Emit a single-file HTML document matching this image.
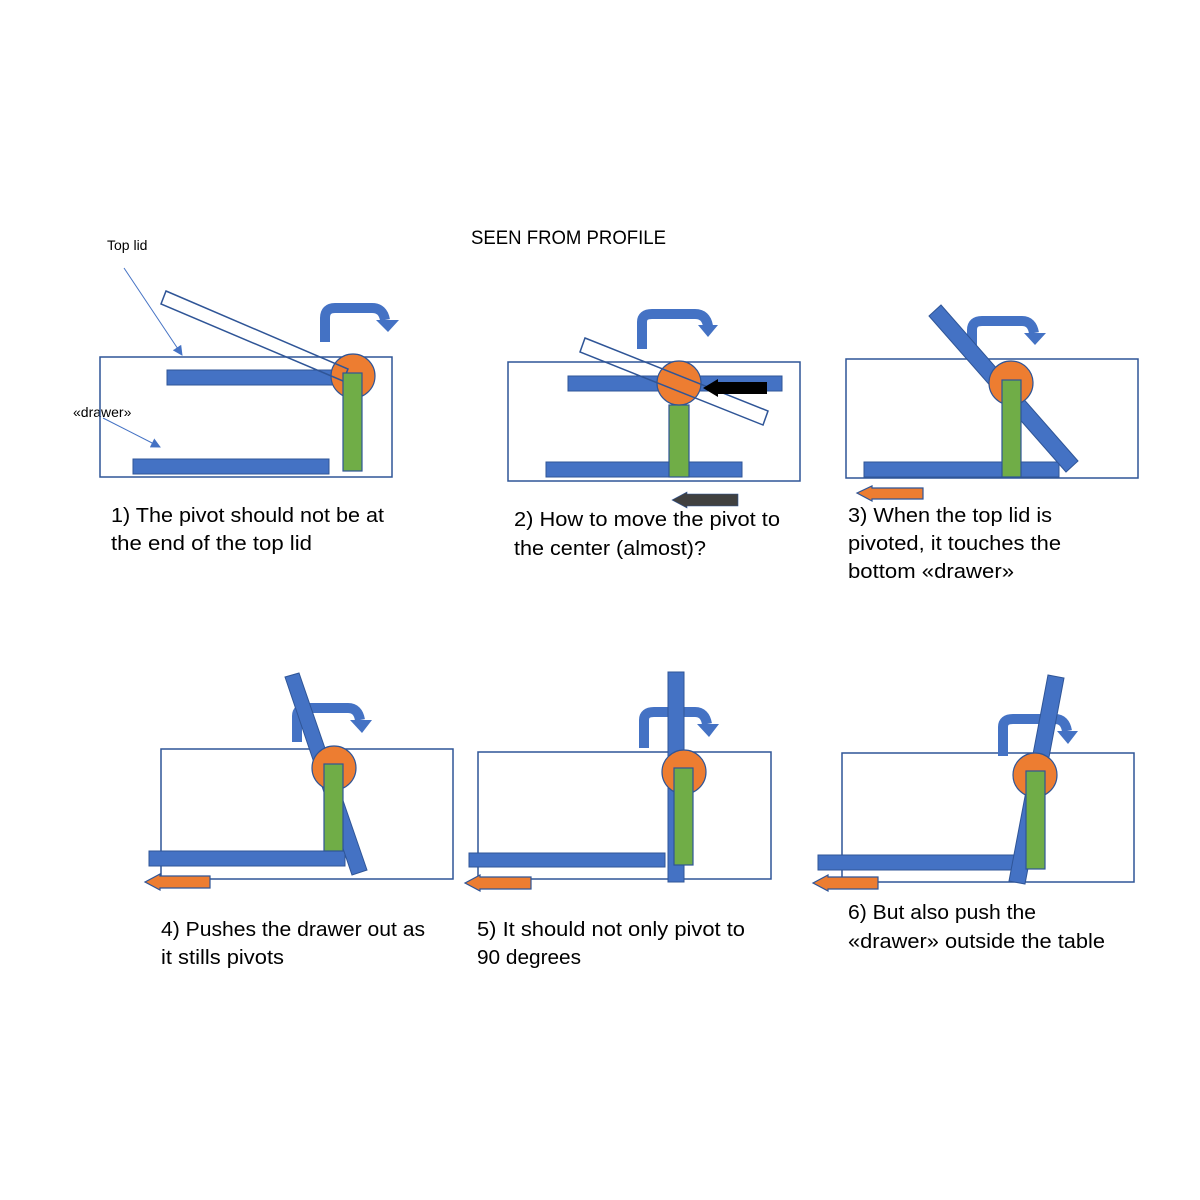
<!DOCTYPE html>
<html><head><style>
html,body{margin:0;padding:0;background:#fff;}
svg{display:block;}
text{font-family:"Liberation Sans",sans-serif;fill:#000;}
.box{fill:none;stroke:#2F5597;stroke-width:1.5;}
.bar{fill:#4472C4;stroke:#2F5597;stroke-width:1;}
.grn{fill:#70AD47;stroke:#2F5597;stroke-width:1.2;}
.org{fill:#ED7D31;stroke:#2F5597;stroke-width:1.2;}
.ca{fill:none;stroke:#4472C4;stroke-width:10;}
.cap{font-size:20px;}
</style></head><body>
<svg width="1200" height="1200" viewBox="0 0 1200 1200">
<defs>
<marker id="thin" markerWidth="10" markerHeight="10" refX="9" refY="5" orient="auto" markerUnits="userSpaceOnUse"><path d="M0,0 L10,5 L0,10z" fill="#4472C4"/></marker>
</defs>
<text x="471" y="244" font-size="19" textLength="195" lengthAdjust="spacingAndGlyphs">SEEN FROM PROFILE</text>

<!-- Panel 1 -->
<text x="107" y="250" font-size="14">Top lid</text>
<line x1="124" y1="268" x2="182" y2="355" stroke="#4472C4" stroke-width="1" marker-end="url(#thin)"/>
<text x="73" y="417" font-size="14">«drawer»</text>
<line x1="103" y1="418" x2="160" y2="447" stroke="#4472C4" stroke-width="1" marker-end="url(#thin)"/>
<rect class="box" x="100" y="357" width="292" height="120"/>
<rect class="bar" x="167" y="370" width="178" height="15"/>
<rect class="bar" x="133" y="459" width="196" height="15"/>
<circle class="org" cx="353" cy="376" r="22"/>
<polygon points="166,291 348,369 343,381 161,304" fill="none" stroke="#2F5597" stroke-width="1.5"/>
<rect class="grn" x="343" y="373" width="19" height="98"/>
<path class="ca" d="M325,342 V318 Q325,308 335,308 H372 Q383,308 385,320"/>
<polygon points="376,320 399,320 388,332" fill="#4472C4"/>
<text class="cap" x="111" y="522" textLength="273" lengthAdjust="spacingAndGlyphs">1) The pivot should not be at</text>
<text class="cap" x="111" y="550" textLength="201" lengthAdjust="spacingAndGlyphs">the end of the top lid</text>

<!-- Panel 2 -->
<rect class="box" x="508" y="362" width="292" height="119"/>
<rect class="bar" x="568" y="376" width="214" height="15"/>
<rect class="bar" x="546" y="462" width="196" height="15"/>
<rect class="grn" x="669" y="405" width="20" height="72"/>
<circle class="org" cx="679" cy="383" r="22"/>
<polygon points="585,338 768,411 763,425 580,352" fill="none" stroke="#2F5597" stroke-width="1.5"/>
<polygon points="703,388 718,379 718,382 767,382 767,394 718,394 718,397" fill="#000"/>
<polygon points="672,500 687,492 687,494 738,494 738,506 687,506 687,508" fill="#404040" stroke="#2F5597" stroke-width="0.6"/>
<path class="ca" d="M642,349 V322 Q642,314 652,314 H695 Q706,314 708,326"/>
<polygon points="698,325 718,325 708,337" fill="#4472C4"/>
<text class="cap" x="514" y="526" textLength="266" lengthAdjust="spacingAndGlyphs">2) How to move the pivot to</text>
<text class="cap" x="514" y="555" textLength="192" lengthAdjust="spacingAndGlyphs">the center (almost)?</text>

<!-- Panel 3 -->
<rect class="box" x="846" y="359" width="292" height="119"/>
<rect class="bar" x="864" y="462" width="195" height="15"/>
<path class="ca" d="M972,356 V330 Q972,321 982,321 H1022 Q1032,321 1034,333"/>
<polygon points="1024,333 1046,333 1035,345" fill="#4472C4"/>
<polygon points="929,316 941,305 1078,461 1066,472" class="bar"/>
<circle class="org" cx="1011" cy="383" r="22"/>
<rect class="grn" x="1002" y="380" width="19" height="97"/>
<polygon points="857,493 872,486 872,488 923,488 923,499 872,499 872,501" class="org"/>
<text class="cap" x="848" y="522" textLength="204" lengthAdjust="spacingAndGlyphs">3) When the top lid is</text>
<text class="cap" x="848" y="550" textLength="213" lengthAdjust="spacingAndGlyphs">pivoted, it touches the</text>
<text class="cap" x="848" y="578" textLength="166" lengthAdjust="spacingAndGlyphs">bottom «drawer»</text>

<!-- Panel 4 -->
<rect class="box" x="161" y="749" width="292" height="130"/>
<rect class="bar" x="149" y="851" width="196" height="15"/>
<path class="ca" d="M297,742 V716 Q297,708 307,708 H348 Q358,708 360,720"/>
<polygon points="350,720 372,720 362,733" fill="#4472C4"/>
<polygon points="285,677 299,673 367,870 352,875" class="bar"/>
<circle class="org" cx="334" cy="768" r="22"/>
<rect class="grn" x="324" y="764" width="19" height="87"/>
<polygon points="145,882 160,874 160,876 210,876 210,888 160,888 160,890" class="org"/>
<text class="cap" x="161" y="936" textLength="264" lengthAdjust="spacingAndGlyphs">4) Pushes the drawer out as</text>
<text class="cap" x="161" y="964" textLength="123" lengthAdjust="spacingAndGlyphs">it stills pivots</text>

<!-- Panel 5 -->
<rect class="box" x="478" y="752" width="293" height="127"/>
<rect class="bar" x="469" y="853" width="196" height="14"/>
<path class="ca" d="M644,748 V720 Q644,712 654,712 H695 Q705,712 707,724"/>
<polygon points="697,724 719,724 709,737" fill="#4472C4"/>
<rect class="bar" x="668" y="672" width="16" height="210"/>
<circle class="org" cx="684" cy="772" r="22"/>
<rect class="grn" x="674" y="768" width="19" height="97"/>
<polygon points="465,883 480,875 480,877 531,877 531,889 480,889 480,891" class="org"/>
<text class="cap" x="477" y="936" textLength="268" lengthAdjust="spacingAndGlyphs">5) It should not only pivot to</text>
<text class="cap" x="477" y="964" textLength="104" lengthAdjust="spacingAndGlyphs">90 degrees</text>

<!-- Panel 6 -->
<rect class="box" x="842" y="753" width="292" height="129"/>
<rect class="bar" x="818" y="855" width="196" height="15"/>
<path class="ca" d="M1003,756 V727 Q1003,719 1013,719 H1055 Q1065,719 1067,731"/>
<polygon points="1057,731 1078,731 1068,744" fill="#4472C4"/>
<polygon points="1048,675 1064,678 1025,884 1009,881" class="bar"/>
<circle class="org" cx="1035" cy="775" r="22"/>
<rect class="grn" x="1026" y="771" width="19" height="98"/>
<polygon points="813,883 828,875 828,877 878,877 878,889 828,889 828,891" class="org"/>
<text class="cap" x="848" y="919" textLength="188" lengthAdjust="spacingAndGlyphs">6) But also push the</text>
<text class="cap" x="848" y="948" textLength="257" lengthAdjust="spacingAndGlyphs">«drawer» outside the table</text>
</svg>
</body></html>
